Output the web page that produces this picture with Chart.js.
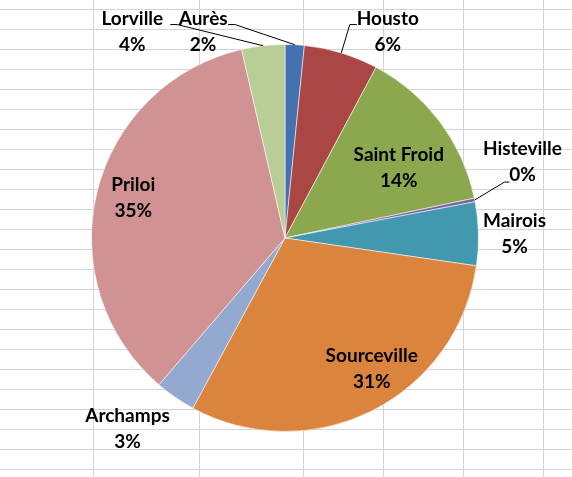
<!DOCTYPE html>
<html>
<head>
<meta charset="utf-8">
<script src="https://cdn.jsdelivr.net/npm/chart.js@4"></script>
<style>
  html, body { margin: 0; padding: 0; background: #fff; }
  #pie { display: block; }
</style>
</head>
<body>
<canvas id="pie" width="572" height="477"></canvas>
<script>
// data (clockwise from 12 o'clock, as in the sheet)
const towns = ['Aurès', 'Housto', 'Saint Froid', 'Histeville', 'Mairois', 'Sourceville', 'Archamps', 'Priloi', 'Lorville'];
const shares = [1.6, 6.2, 13.9, 0.3, 5.3, 30.6, 3.4, 35.1, 3.6];

const sliceColors = ['#4472B0', '#AA4644', '#8BA84E', '#7E62A0', '#4198AF', '#DB843D', '#93A9CF', '#D09292', '#B9CD96'];

// label block centres, in radius units from the pie centre
const labelSpots = [
  [-0.423, -1.067], [0.531, -1.067], [0.588, -0.361], [1.227, -0.392], [1.186, -0.021],
  [0.448, 0.675], [-0.814, 0.985], [-0.784, -0.206], [-0.789, -1.067]
];
// leader lines: start point (radius units) and horizontal stub (px), null = none
const leaders = [
  { from: [-0.294, -1.103], stub: 7 },
  { from: [0.371, -1.103], stub: -7 },
  null,
  { from: [1.160, -0.289], stub: -5 },
  null, null, null, null,
  { from: [-0.593, -1.103], stub: 7 }
];

const gridRows = 9, gridStep = 20;
const gridCols = [93, 199, 303, 383, 463, 543];

const sheetGrid = {
  id: 'sheetGrid',
  beforeDraw(chart) {
    const ctx = chart.ctx;
    const w = chart.width, h = chart.height;
    ctx.save();
    ctx.fillStyle = '#ffffff';
    ctx.fillRect(0, 0, w, h);
    ctx.strokeStyle = '#D0D4DC';
    ctx.lineWidth = 1;
    ctx.beginPath();
    for (let y = gridRows; y < h; y += gridStep) {
      ctx.moveTo(0, y + 0.5); ctx.lineTo(w, y + 0.5);
    }
    gridCols.forEach(x => { ctx.moveTo(x + 0.5, 0); ctx.lineTo(x + 0.5, h); });
    ctx.stroke();
    ctx.restore();
  }
};

const sliceLabels = {
  id: 'sliceLabels',
  afterDatasetsDraw(chart) {
    const ctx = chart.ctx;
    const arcs = chart.getDatasetMeta(0).data;
    const total = shares.reduce((a, b) => a + b, 0);
    ctx.save();
    ctx.font = 'bold 19px Lato, "Open Sans", sans-serif';
    ctx.fillStyle = '#000';
    ctx.textAlign = 'center';
    ctx.textBaseline = 'middle';
    arcs.forEach((arc, i) => {
      const { x, y, outerRadius, startAngle, endAngle } = arc.getProps(['x', 'y', 'outerRadius', 'startAngle', 'endAngle'], true);
      const R = outerRadius;
      const lx = x + labelSpots[i][0] * R;
      const ly = y + labelSpots[i][1] * R;
      const pct = Math.round(shares[i] / total * 100) + '%';
      ctx.fillText(towns[i], lx, ly - 13);
      ctx.fillText(pct, lx, ly + 13);
      const ld = leaders[i];
      if (ld) {
        const mid = (startAngle + endAngle) / 2;
        const sx = x + ld.from[0] * R, sy = y + ld.from[1] * R;
        ctx.beginPath();
        ctx.strokeStyle = '#000';
        ctx.lineWidth = 1;
        ctx.moveTo(sx, sy);
        ctx.lineTo(sx + ld.stub, sy);
        ctx.lineTo(x + Math.cos(mid) * R, y + Math.sin(mid) * R);
        ctx.stroke();
      }
    });
    ctx.restore();
  }
};

new Chart(document.getElementById('pie'), {
  type: 'pie',
  data: {
    labels: towns,
    datasets: [{
      data: shares,
      backgroundColor: sliceColors,
      borderColor: 'rgba(255,255,255,0.55)',
      borderWidth: 1
    }]
  },
  options: {
    responsive: false,
    animation: false,
    layout: { padding: { left: 91, right: 93, top: 44, bottom: 45 } },
    plugins: { legend: { display: false }, tooltip: { enabled: false } }
  },
  plugins: [sheetGrid, sliceLabels]
});
</script>
</body>
</html>
